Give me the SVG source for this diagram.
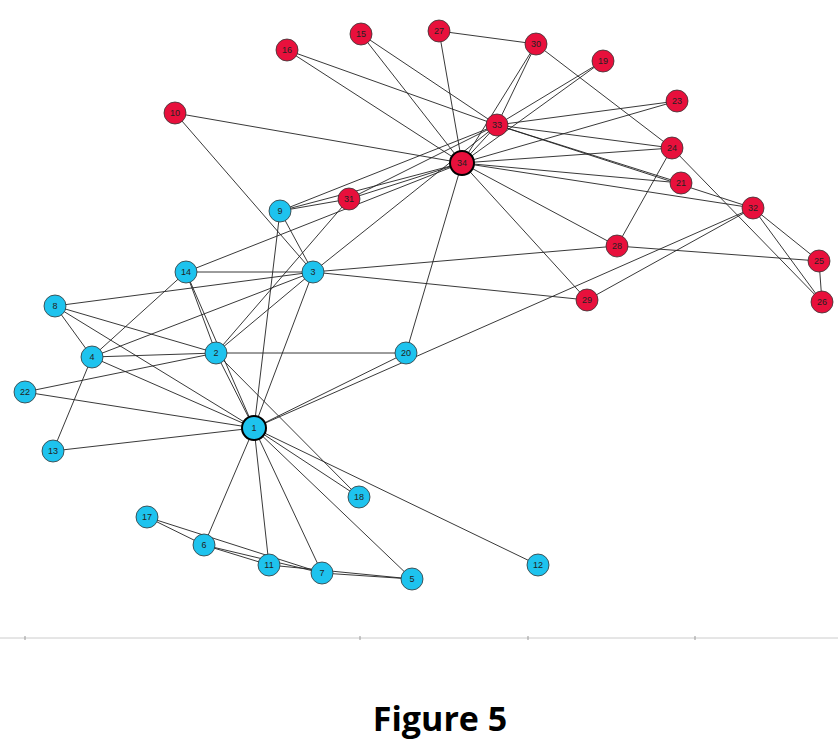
<svg xmlns="http://www.w3.org/2000/svg" width="838" height="746" viewBox="0 0 838 746">
<style>
.e{stroke:#222;stroke-width:0.9;fill:none}
.b{fill:#1ec3ee;stroke:#333;stroke-width:0.8}
.r{fill:#e8103c;stroke:#333;stroke-width:0.8}
.big{stroke:#000;stroke-width:2}
text{font-family:"Liberation Sans",Arial,sans-serif;font-size:9px;text-anchor:middle;dominant-baseline:central;fill:#222}
</style>
<rect width="838" height="746" fill="#fff"/>
<line x1="0" y1="638" x2="838" y2="638" stroke="#ccc" stroke-width="1"/>
<g stroke="#999"><line x1="25" y1="636" x2="25" y2="640"/><line x1="360" y1="636" x2="360" y2="640"/><line x1="528" y1="636" x2="528" y2="640"/><line x1="695" y1="636" x2="695" y2="640"/></g>
<g id="connectors" class="e">
<path d="M254 428L216 353M254 428L313 272M254 428L92 357M254 428L412 579M254 428L204 545M254 428L322 573M254 428L55 306M254 428L280 211M254 428L269 565M254 428L538 565M254 428L53 451M254 428L186 272M254 428L359 497M254 428L406 353M254 428L25 392M254 428L753 208"/>
<path d="M216 353L313 272M216 353L92 357M216 353L55 306M216 353L186 272M216 353L359 497M216 353L406 353M216 353L25 392M216 353L349 199"/>
<path d="M313 272L92 357M313 272L55 306M313 272L280 211M313 272L175 113M313 272L186 272M313 272L617 246M313 272L587 300M313 272L497 125"/>
<path d="M92 357L55 306M92 357L53 451M92 357L186 272M412 579L322 573M412 579L269 565M204 545L322 573M204 545L269 565M204 545L147 517M322 573L147 517"/>
<path d="M280 211L349 199M280 211L497 125M280 211L462 163M175 113L462 163M186 272L462 163M361 34L497 125M361 34L462 163M287 50L497 125M287 50L462 163M603 61L497 125M603 61L462 163M406 353L462 163"/>
<path d="M681 183L497 125M681 183L462 163M677 101L497 125M677 101L462 163M672 148L822 302M672 148L617 246M672 148L536 44M672 148L497 125M672 148L462 163"/>
<path d="M819 261L822 302M819 261L617 246M819 261L753 208M822 302L753 208M439 31L536 44M439 31L462 163M617 246L462 163M587 300L753 208M587 300L462 163"/>
<path d="M536 44L497 125M536 44L462 163M349 199L497 125M349 199L462 163M753 208L497 125M753 208L462 163M497 125L462 163"/>
</g>
<g id="n1"><circle class="b big" cx="254" cy="428" r="12"/><text x="254" y="428">1</text></g>
<g id="n2"><circle class="b" cx="216" cy="353" r="11"/><text x="216" y="353">2</text></g>
<g id="n3"><circle class="b" cx="313" cy="272" r="11"/><text x="313" y="272">3</text></g>
<g id="n4"><circle class="b" cx="92" cy="357" r="11"/><text x="92" y="357">4</text></g>
<g id="n5"><circle class="b" cx="412" cy="579" r="11"/><text x="412" y="579">5</text></g>
<g id="n6"><circle class="b" cx="204" cy="545" r="11"/><text x="204" y="545">6</text></g>
<g id="n7"><circle class="b" cx="322" cy="573" r="11"/><text x="322" y="573">7</text></g>
<g id="n8"><circle class="b" cx="55" cy="306" r="11"/><text x="55" y="306">8</text></g>
<g id="n9"><circle class="b" cx="280" cy="211" r="11"/><text x="280" y="211">9</text></g>
<g id="n10"><circle class="r" cx="175" cy="113" r="11"/><text x="175" y="113">10</text></g>
<g id="n11"><circle class="b" cx="269" cy="565" r="11"/><text x="269" y="565">11</text></g>
<g id="n12"><circle class="b" cx="538" cy="565" r="11"/><text x="538" y="565">12</text></g>
<g id="n13"><circle class="b" cx="53" cy="451" r="11"/><text x="53" y="451">13</text></g>
<g id="n14"><circle class="b" cx="186" cy="272" r="11"/><text x="186" y="272">14</text></g>
<g id="n15"><circle class="r" cx="361" cy="34" r="11"/><text x="361" y="34">15</text></g>
<g id="n16"><circle class="r" cx="287" cy="50" r="11"/><text x="287" y="50">16</text></g>
<g id="n17"><circle class="b" cx="147" cy="517" r="11"/><text x="147" y="517">17</text></g>
<g id="n18"><circle class="b" cx="359" cy="497" r="11"/><text x="359" y="497">18</text></g>
<g id="n19"><circle class="r" cx="603" cy="61" r="11"/><text x="603" y="61">19</text></g>
<g id="n20"><circle class="b" cx="406" cy="353" r="11"/><text x="406" y="353">20</text></g>
<g id="n21"><circle class="r" cx="681" cy="183" r="11"/><text x="681" y="183">21</text></g>
<g id="n22"><circle class="b" cx="25" cy="392" r="11"/><text x="25" y="392">22</text></g>
<g id="n23"><circle class="r" cx="677" cy="101" r="11"/><text x="677" y="101">23</text></g>
<g id="n24"><circle class="r" cx="672" cy="148" r="11"/><text x="672" y="148">24</text></g>
<g id="n25"><circle class="r" cx="819" cy="261" r="11"/><text x="819" y="261">25</text></g>
<g id="n26"><circle class="r" cx="822" cy="302" r="11"/><text x="822" y="302">26</text></g>
<g id="n27"><circle class="r" cx="439" cy="31" r="11"/><text x="439" y="31">27</text></g>
<g id="n28"><circle class="r" cx="617" cy="246" r="11"/><text x="617" y="246">28</text></g>
<g id="n29"><circle class="r" cx="587" cy="300" r="11"/><text x="587" y="300">29</text></g>
<g id="n30"><circle class="r" cx="536" cy="44" r="11"/><text x="536" y="44">30</text></g>
<g id="n31"><circle class="r" cx="349" cy="199" r="11"/><text x="349" y="199">31</text></g>
<g id="n32"><circle class="r" cx="753" cy="208" r="11"/><text x="753" y="208">32</text></g>
<g id="n33"><circle class="r" cx="497" cy="125" r="11"/><text x="497" y="125">33</text></g>
<g id="n34"><circle class="r big" cx="462" cy="163" r="12"/><text x="462" y="163">34</text></g>
<text x="440" y="718" style="font-family:'Open Sans','Liberation Sans',sans-serif;font-size:34px;font-weight:bold;fill:#000">Figure 5</text>
</svg>
